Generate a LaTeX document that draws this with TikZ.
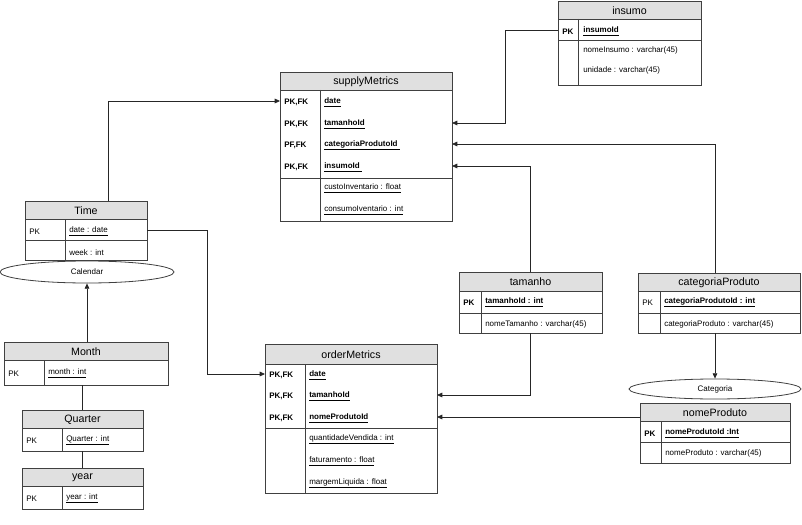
\documentclass[tikz,border=0pt]{standalone}
\usepackage{fontspec}
\setmainfont{Liberation Sans}
\usetikzlibrary{shapes.geometric,arrows.meta}
\newcommand{\uln}[1]{\underline{#1}}
\begin{document}
\begin{tikzpicture}[x=0.75pt,y=-0.75pt,
  box/.style={draw=black!75,line width=0.6pt},
  head/.style={box,fill=black!12},
  ttl/.style={font=\fontsize{8}{9}\selectfont,inner sep=0,yshift=-0.5pt},
  cell/.style={anchor=west,font=\fontsize{6}{7}\selectfont,inner sep=0,yshift=-1pt},
  conn/.style={draw=black!85,line width=0.6pt},
  arr/.style={conn,-{Triangle[length=4pt,width=3.5pt]}},
  ell/.style={ellipse,draw=black!75,line width=0.6pt,fill=white,font=\fontsize{6}{7}\selectfont,inner sep=0}]
\useasboundingbox (0,0) rectangle (802,524);
\newcommand{\ent}[8]{%
  \draw[box,fill=white] (#2,#4) rectangle (#3,#6);
  \draw[head] (#2,#4) rectangle (#3,#5);
  \node[ttl] (#1) at ({(#2+#3)/2},{(#4+#5)/2}) {#7};
  \draw[box] (#8,#5) -- (#8,#6);}
% insumo
\ent{insumo}{558}{701}{1}{19}{85}{insumo}{578}
\draw[box] (558,40) -- (701,40);
\node[cell] (i1) at (562,30) {\textbf{PK}};
\node[cell] (i2) at (583,30) {\textbf{\uln{insumoId}}};
\node[cell] (i3) at (583,49) {nomeInsumo : varchar(45)};
\node[cell] (i4) at (583,69) {unidade : varchar(45)};
% supplyMetrics
\ent{supply}{280}{452}{72}{90}{221}{supplyMetrics}{320}
\draw[box] (280,178) -- (452,178);
\node[cell] (s1) at (284,101) {\textbf{PK,FK}};
\node[cell] (s2) at (284,123) {\textbf{PK,FK}};
\node[cell] (s3) at (284,144) {\textbf{PF,FK}};
\node[cell] (s4) at (284,166) {\textbf{PK,FK}};
\node[cell] (s5) at (324,101) {\textbf{\uln{date}}};
\node[cell] (s6) at (324,123) {\textbf{\uln{tamanhoId}}};
\node[cell] (s7) at (324,144) {\textbf{\uln{categoriaProdutoId\ }}};
\node[cell] (s8) at (324,166) {\textbf{\uln{insumoId\ }}};
\node[cell] (s9) at (324,187) {\uln{custoInventario : float}};
\node[cell] (s10) at (324,209) {\uln{consumoIventario : int}};
% Time
\ent{time}{25}{147}{201}{219}{260}{Time}{65}
\draw[box] (25,240) -- (147,240);
\node[cell] (t1) at (29,230) {PK};
\node[cell] (t2) at (69,230) {\uln{date : date}};
\node[cell] (t3) at (69,251) {week : int};
\node[ell,minimum width=174pt*0.75,minimum height=22pt*0.75] (cal) at (87,272) {Calendar};
% Month
\ent{month}{4}{168}{342}{360}{385}{Month}{44}
\node[cell] (m1) at (8,372) {PK};
\node[cell] (m2) at (48,372) {\uln{month : int}};
% Quarter
\ent{quarter}{22}{143}{410}{428}{451}{Quarter}{62}
\node[cell] (q1) at (26,439) {PK};
\node[cell] (q2) at (66,439) {\uln{Quarter : int}};
% year
\ent{year}{22}{143}{468}{486}{509}{year}{62}
\node[cell] (y1) at (26,497) {PK};
\node[cell] (y2) at (66,497) {\uln{year : int}};
% orderMetrics
\ent{order}{265}{437}{344}{364}{493}{orderMetrics}{305}
\draw[box] (265,428) -- (437,428);
\node[cell] (o1) at (269,374) {\textbf{PK,FK}};
\node[cell] (o2) at (269,395) {\textbf{PK,FK}};
\node[cell] (o3) at (269,417) {\textbf{PK,FK}};
\node[cell] (o4) at (309,374) {\textbf{\uln{date}}};
\node[cell] (o5) at (309,395) {\textbf{\uln{tamanhoId}}};
\node[cell] (o6) at (309,417) {\textbf{\uln{nomeProdutoId}}};
\node[cell] (o7) at (309,438) {\uln{quantidadeVendida : int}};
\node[cell] (o8) at (309,460) {\uln{faturamento : float}};
\node[cell] (o9) at (309,482) {\uln{margemLiquida : float}};
% tamanho
\ent{tam}{459}{602}{272}{291}{333}{tamanho}{481}
\draw[box] (459,313) -- (602,313);
\node[cell] (ta1) at (463,301) {\textbf{PK}};
\node[cell] (ta2) at (485,301) {\textbf{\uln{tamanhoId : int}}};
\node[cell] (ta3) at (485,323) {nomeTamanho : varchar(45)};
% categoriaProduto
\ent{cat}{638}{800}{273}{291}{333}{categoriaProduto}{660}
\draw[box] (638,313) -- (800,313);
\node[cell] (c1) at (642,301) {PK};
\node[cell] (c2) at (664,301) {\textbf{\uln{categoriaProdutoId : int}}};
\node[cell] (c3) at (664,323) {categoriaProduto : varchar(45)};
\node[ell,minimum width=172pt*0.75,minimum height=20pt*0.75] (categ) at (715,389) {Categoria};
% nomeProduto
\ent{nome}{640}{790}{403}{421}{463}{nomeProduto}{661}
\draw[box] (640,442) -- (790,442);
\node[cell] (n1) at (644,432) {\textbf{PK}};
\node[cell] (n2) at (665,432) {\textbf{\uln{nomeProdutoId :Int}}};
\node[cell] (n3) at (665,452) {nomeProduto : varchar(45)};
% anchors
\coordinate (insL) at (558,30);
\coordinate (supR2) at (452,123);
\coordinate (supR3) at (452,144);
\coordinate (supR4) at (452,166);
\coordinate (supL1) at (280,101);
\coordinate (timeT) at (108,201);
\coordinate (timeR) at (147,230);
\coordinate (ordL1) at (265,374);
\coordinate (ordR2) at (437,395);
\coordinate (ordR3) at (437,417);
\coordinate (tamT) at (530,272);
\coordinate (tamB) at (530,333);
\coordinate (catT) at (715,273);
\coordinate (catB) at (715,333);
\coordinate (nomeL) at (640,417);
\coordinate (monT) at (87,342);
\coordinate (monB) at (82,385);
\coordinate (quaT) at (82,410);
\coordinate (quaB) at (82,451);
\coordinate (yeaT) at (82,468);
% connectors
\draw[arr] (insL) -| (505,123) -- (supR2);
\draw[arr] (catT) |- (supR3);
\draw[arr] (tamT) |- (supR4);
\draw[arr] (timeT) |- (supL1);
\draw[arr] (timeR) -| (207,374) -- (ordL1);
\draw[arr] (tamB) |- (ordR2);
\draw[arr] (nomeL) -- (ordR3);
\draw[arr] (catB) -- (categ.north);
\draw[arr] (monT) -- (cal.south);
\draw[conn] (monB) -- (quaT);
\draw[conn] (quaB) -- (yeaT);
\end{tikzpicture}
\end{document}
